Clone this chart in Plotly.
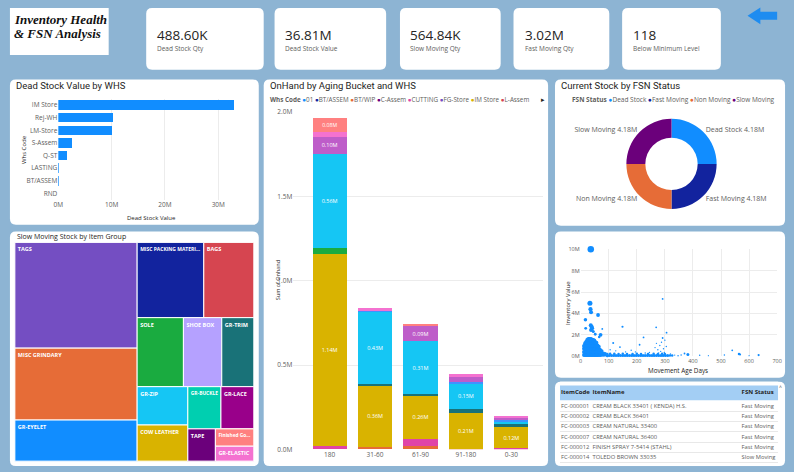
import plotly.graph_objects as go

W, H = 794, 472
BG = "#8DB4D3"
FONT = "Segoe UI, Open Sans, sans-serif"
TFONT = "Roboto, sans-serif"
GRAY = "#605E5C"
DARK = "#252423"
GRID = "#ECECEC"

# ---------------- data ----------------
KPI_VALUES = ["488.60K", "36.81M", "564.84K", "3.02M", "118"]
KPI_LABELS = ["Dead Stock Qty", "Dead Stock Value", "Slow Moving Qty", "Fast Moving Qty", "Below Minimum Level"]

WHS_DEAD = ["IM Store", "Rej-WH", "LM-Store", "S-Assem", "Q-ST", "LASTING", "BT/ASSEM", "RND"]
DEAD_VALUE_M = [33.0, 10.2, 10.0, 2.5, 1.6, 0.15, 0.1, 0.0]
DEAD_TICKS_M = [0, 10, 20, 30]

BUCKETS = ["180", "31-60", "61-90", "91-180", "0-30"]
WHS_CODES = ["01", "BT/ASSEM", "BT/WIP", "C-Assem", "CUTTING", "FG-Store", "IM Store", "L-Assem",
             "LASTING", "LM-Store", "M-Store", "Q-ST", "RND", "Rej-WH", "S-Assem", "SOLE-ST", "STITCH", "WIP-ST"]
OH_01 = [0, 0, 0, 0, 0]
OH_BT_ASSEM = [0, 0, 0, 0, 0]
OH_BT_WIP = [0, 0.015, 0.02, 0.005, 0]
OH_C_ASSEM = [0, 0, 0, 0, 0]
OH_CUTTING = [0.02, 0, 0.04, 0, 0.01]
OH_FG_STORE = [0, 0, 0, 0, 0]
OH_IM_STORE = [1.14, 0.36, 0.26, 0.21, 0.12]
OH_L_ASSEM = [0, 0, 0, 0, 0]
OH_LASTING = [0, 0.012, 0.01, 0.027, 0.02]
OH_LM_STORE = [0.033, 0, 0, 0, 0]
OH_M_STORE = [0.56, 0.43, 0.31, 0.15, 0.015]
OH_Q_ST = [0, 0.005, 0, 0.006, 0.015]
OH_RND = [0, 0, 0, 0, 0]
OH_REJ_WH = [0.10, 0, 0.09, 0.033, 0.005]
OH_S_ASSEM = [0.03, 0.015, 0, 0.013, 0.015]
OH_SOLE_ST = [0, 0, 0, 0, 0]
OH_STITCH = [0, 0, 0, 0, 0]
OH_WIP_ST = [0.08, 0, 0.015, 0, 0]
ONHAND_SERIES = [OH_01, OH_BT_ASSEM, OH_BT_WIP, OH_C_ASSEM, OH_CUTTING, OH_FG_STORE, OH_IM_STORE,
                 OH_L_ASSEM, OH_LASTING, OH_LM_STORE, OH_M_STORE, OH_Q_ST, OH_RND, OH_REJ_WH,
                 OH_S_ASSEM, OH_SOLE_ST, OH_STITCH, OH_WIP_ST]
LEGEND_COUNT = 8

FSN_STATUS = ["Dead Stock", "Fast Moving", "Non Moving", "Slow Moving"]
FSN_STOCK_M = [4.18, 4.18, 4.18, 4.18]

GROUPS = ["TAGS", "MISC GRINDARY", "GR-EYELET", "MISC PACKING MATERIAL", "BAGS", "SOLE", "SHOE BOX",
          "GR-TRIM", "GR-ZIP", "COW LEATHER", "GR-BUCKLE", "GR-LACE", "TAPE", "Finished Goods", "GR-ELASTIC"]
GROUP_LABELS = ["TAGS", "MISC GRINDARY", "GR-EYELET", "MISC PACKING MATERI...", "BAGS", "SOLE", "SHOE BOX",
                "GR-TRIM", "GR-ZIP", "COW LEATHER", "GR-BUCKLE", "GR-LACE", "TAPE", "Finished Go...", "GR-ELASTIC"]
GROUP_QTY_K = [139.7, 95.0, 54.3, 54.2, 40.7, 34.5, 28.6, 23.9, 21.0, 19.8, 15.1, 15.0, 9.6, 7.2, 6.2]

# scatter items: (movement age days, inventory value M, qty)
LARGE_ITEMS = [(36, 10.0, 65), (33, 4.95, 50), (35, 4.4, 42), (37, 4.1, 40), (62, 3.85, 38), (17, 3.4, 35),
               (36, 2.9, 40), (39, 2.75, 42), (37, 2.45, 40), (41, 2.6, 40), (71, 2.0, 38), (77, 2.55, 18),
               (18, 2.6, 28), (45, 2.3, 30), (52, 2.05, 28), (66, 1.8, 25)]
OUTLIER_ITEMS = [(292, 5.35, 18), (149, 2.75, 22), (269, 2.7, 18), (224, 1.75, 18), (306, 2.2, 18),
                 (292, 1.7, 18), (210, 1.07, 18), (116, 1.24, 20), (140, 0.85, 18), (382, 0.15, 30),
                 (540, 0.55, 18), (564, 0.2, 25), (568, 0.15, 20), (634, 0.1, 22), (512, 0.1, 15),
                 (424, 0.08, 15), (347, 0.05, 15), (358, 0.1, 15), (370, 0.25, 18), (265, 0.8, 14),
                 (270, 1.2, 14), (275, 0.6, 14), (282, 1.0, 14), (288, 1.3, 14), (295, 0.7, 14),
                 (300, 1.5, 14), (285, 0.45, 14), (298, 0.35, 14), (305, 0.9, 14), (278, 0.3, 14),
                 (180, 0.55, 14), (195, 0.4, 14), (230, 0.3, 14), (245, 0.35, 14), (160, 0.4, 14),
                 (125, 0.5, 14), (105, 0.6, 14), (320, 0.2, 14), (335, 0.1, 14), (455, 0.05, 12),
                 (600, 0.05, 12)]
CLUSTER_ITEMS = [(12, 0.1, 40), (12, 0.4, 40), (12, 0.7, 40), (12, 0.95, 40),
                 (16, 0.1, 40), (16, 0.4, 40), (16, 0.7, 40), (16, 1.0, 40), (16, 1.2, 40),
                 (20, 0.1, 40), (20, 0.4, 40), (20, 0.7, 40), (20, 1.0, 40), (20, 1.3, 45),
                 (24, 0.1, 40), (24, 0.4, 40), (24, 0.7, 40), (24, 1.0, 40), (24, 1.3, 45), (24, 1.5, 45),
                 (28, 0.1, 40), (28, 0.4, 40), (28, 0.7, 40), (28, 1.0, 40), (28, 1.3, 45), (28, 1.55, 50),
                 (32, 0.1, 40), (32, 0.4, 40), (32, 0.7, 40), (32, 1.0, 40), (32, 1.3, 45), (32, 1.55, 50),
                 (36, 0.1, 40), (36, 0.4, 40), (36, 0.7, 40), (36, 1.0, 40), (36, 1.3, 45), (36, 1.55, 50),
                 (40, 0.1, 40), (40, 0.4, 40), (40, 0.7, 40), (40, 1.0, 40), (40, 1.3, 45), (40, 1.5, 50),
                 (44, 0.1, 40), (44, 0.4, 40), (44, 0.7, 40), (44, 1.0, 40), (44, 1.3, 45), (44, 1.5, 45),
                 (48, 0.1, 40), (48, 0.4, 40), (48, 0.7, 40), (48, 1.0, 40), (48, 1.3, 45), (48, 1.45, 45),
                 (52, 0.1, 40), (52, 0.4, 40), (52, 0.7, 40), (52, 1.0, 40), (52, 1.3, 40),
                 (56, 0.1, 40), (56, 0.4, 40), (56, 0.7, 40), (56, 1.0, 40), (56, 1.25, 40),
                 (60, 0.1, 40), (60, 0.4, 40), (60, 0.7, 40), (60, 1.0, 40),
                 (65, 0.1, 40), (65, 0.4, 40), (65, 0.7, 40), (65, 0.9, 35),
                 (70, 0.1, 40), (70, 0.35, 40), (70, 0.6, 35),
                 (76, 0.1, 35), (76, 0.3, 35), (76, 0.5, 30),
                 (82, 0.1, 35), (82, 0.3, 30), (88, 0.1, 30), (88, 0.25, 30), (95, 0.05, 30), (95, 0.2, 25)]
CARPET_ITEMS = [(102, 0.06, 30), (110, 0.06, 30), (118, 0.06, 30), (126, 0.06, 30), (134, 0.06, 30),
                (142, 0.06, 30), (150, 0.06, 30), (158, 0.06, 30), (166, 0.06, 30), (174, 0.06, 30),
                (182, 0.06, 30), (190, 0.06, 30), (198, 0.06, 30), (206, 0.06, 30), (214, 0.06, 30),
                (222, 0.06, 30), (230, 0.06, 30), (238, 0.06, 30), (246, 0.06, 30), (254, 0.06, 30),
                (262, 0.06, 30), (270, 0.06, 30), (278, 0.06, 30), (286, 0.06, 30), (294, 0.06, 30),
                (302, 0.06, 30), (310, 0.06, 30), (318, 0.06, 25), (326, 0.06, 25),
                (105, 0.22, 25), (120, 0.22, 25), (135, 0.2, 25), (150, 0.22, 25), (165, 0.2, 25),
                (185, 0.2, 25), (200, 0.22, 25), (215, 0.2, 25), (240, 0.2, 25), (260, 0.22, 25),
                (275, 0.2, 25), (290, 0.22, 25), (300, 0.2, 25)]

TABLE_HEADER = ["ItemCode", "ItemName", "FSN Status"]
ITEM_CODES = ["FC-000001", "FC-000002", "FC-000003", "FC-000007", "FC-000012", "FC-000014"]
ITEM_NAMES = ["CREAM BLACK 33401 ( KENDA) H.S.", "CREAM BLACK 36401", "CREAM NATURAL 33400",
              "CREAM NATURAL 36400", "FINISH SPRAY 7-5414 (STAHL)", "TOLEDO BROWN 33035"]
ITEM_STATUS = ["Fast Moving", "Fast Moving", "Fast Moving", "Fast Moving", "Fast Moving", "Slow Moving"]

PBI = ["#118DFF", "#12239E", "#E66C37", "#6B007B", "#E044A7", "#744EC2", "#D9B300", "#D64550",
       "#197278", "#1AAB40", "#15C6F4", "#4092FF", "#FFA058", "#BE5DC9", "#F472D0", "#B5A1FF",
       "#C4A200", "#FF8080"]
FSN_COLORS = ["#118DFF", "#12239E", "#E66C37", "#6B007B"]
GROUP_COLORS = ["#744EC2", "#E66C37", "#118DFF", "#12239E", "#D64550", "#1AAB40", "#B5A1FF", "#197278",
                "#15C6F4", "#D9B300", "#00CFB0", "#99008A", "#6B007B", "#FF8080", "#F472D0"]


def px(x):
    return x / W


def py(y):
    return 1 - y / H


def rrect(x0, y0, x1, y1, r=6, fill="white"):
    rx, ry = r / W, r / H
    X0, X1, Y0, Y1 = px(x0), px(x1), py(y0), py(y1)
    if r == 0:
        path = f"M{X0},{Y0} L{X1},{Y0} L{X1},{Y1} L{X0},{Y1} Z"
    else:
        path = (f"M{X0+rx},{Y0} L{X1-rx},{Y0} Q{X1},{Y0} {X1},{Y0-ry} L{X1},{Y1+ry} Q{X1},{Y1} {X1-rx},{Y1} "
                f"L{X0+rx},{Y1} Q{X0},{Y1} {X0},{Y1+ry} L{X0},{Y0-ry} Q{X0},{Y0} {X0+rx},{Y0} Z")
    return dict(type="path", path=path, xref="paper", yref="paper", fillcolor=fill,
                line=dict(width=0), layer="below")


annotations = []


def txt(x, y, s, size=7, color=GRAY, anchor="left", family=FONT, angle=0):
    annotations.append(dict(x=px(x), y=py(y), xref="paper", yref="paper", text=s, showarrow=False,
                            xanchor=anchor, yanchor="middle", textangle=angle,
                            font=dict(size=size, color=color, family=family)))


fig = go.Figure()

# ---- dead stock by WHS
fig.add_trace(go.Bar(y=WHS_DEAD, x=DEAD_VALUE_M, orientation="h", marker=dict(color="#118DFF", line_width=0),
                     xaxis="x", yaxis="y", showlegend=False))

# ---- onhand stacked
for i, vals in enumerate(ONHAND_SERIES):
    fig.add_trace(go.Bar(x=BUCKETS, y=vals, name=WHS_CODES[i], marker=dict(color=PBI[i], line_width=0),
                         text=[f"{v:.2f}M" if v >= 0.04 else "" for v in vals],
                         textposition="inside", insidetextanchor="middle", textangle=0,
                         textfont=dict(size=5.5, color="white", family=FONT),
                         xaxis="x2", yaxis="y2", showlegend=False))

# ---- donut
fig.add_trace(go.Pie(labels=FSN_STATUS, values=FSN_STOCK_M, hole=0.58, sort=False, direction="clockwise",
                     rotation=0, marker=dict(colors=FSN_COLORS, line=dict(width=0)),
                     textposition="outside", texttemplate="%{label} %{value:.2f}M",
                     textfont=dict(size=7, color=GRAY, family=FONT), showlegend=False,
                     domain=dict(x=[px(629), px(721)], y=[py(208), py(116)])))

# ---- scatter
all_items = LARGE_ITEMS + OUTLIER_ITEMS + CLUSTER_ITEMS + CARPET_ITEMS
fig.add_trace(go.Scatter(x=[d for d, v, q in all_items], y=[v for d, v, q in all_items], mode="markers",
                         marker=dict(size=[q for d, v, q in all_items], sizemode="diameter", sizeref=10,
                                     color="#118DFF", line_width=0, opacity=1),
                         cliponaxis=False, xaxis="x3", yaxis="y3", showlegend=False))

# ---- treemap
fig.add_trace(go.Treemap(labels=GROUPS, parents=[""] * len(GROUPS), values=GROUP_QTY_K, text=GROUP_LABELS,
                         texttemplate="<b>%{text}</b>", textposition="top left",
                         textfont=dict(size=5.5, color="white", family=FONT),
                         marker=dict(colors=GROUP_COLORS, line=dict(width=1, color="white"),
                                     pad=dict(t=0, l=0, r=0, b=0)),
                         tiling=dict(packing="squarify", squarifyratio=1.618, pad=0),
                         pathbar=dict(visible=False), sort=True,
                         domain=dict(x=[px(10), px(252)], y=[py(465), py(242)])))

# ---- table (text drawn on its own hidden axes: x = pixel offset from column start, y = row index)
COL_X = [1, 33, 184]          # left offsets of the three columns inside the table area (px)
HEADER_ROW = -1.33
rows = list(range(len(ITEM_CODES)))
for cx, head, col in zip(COL_X, TABLE_HEADER, [ITEM_CODES, ITEM_NAMES, ITEM_STATUS]):
    fig.add_trace(go.Scatter(x=[cx] * len(col), y=rows, mode="text", text=col, textposition="middle right",
                             textfont=dict(size=5.8, color=GRAY, family=FONT), cliponaxis=False,
                             xaxis="x4", yaxis="y4", showlegend=False, hoverinfo="skip"))
    fig.add_trace(go.Scatter(x=[cx], y=[HEADER_ROW], mode="text", text=[f"<b>{head}</b>"],
                             textposition="middle right", textfont=dict(size=6, color=DARK, family=FONT),
                             cliponaxis=False, xaxis="x4", yaxis="y4", showlegend=False, hoverinfo="skip"))

# ---- shapes: panels
shapes = [rrect(5, 3, 105, 51, r=0)]
for (a, b) in [(143, 262), (273, 386), (400, 502), (515, 612), (625, 725)]:
    shapes.append(rrect(a, 3, b, 66))
for box in [(5, 76, 257, 224), (262, 76, 550, 470), (557, 76, 790, 225), (557, 231, 790, 380),
            (557, 384, 790, 470), (5, 231, 257, 470)]:
    shapes.append(rrect(*box))
# table header band
shapes.append(dict(type="rect", xref="x4", yref="y4", x0=0, x1=221, y0=-2.05, y1=-0.62,
                   fillcolor="#A3CEF4", line=dict(width=0), layer="below"))
# back arrow icon
arrow = [(752, 11), (765, 2.5), (765, 7), (782, 7), (782, 15), (765, 15), (765, 19.5)]
shapes.append(dict(type="path", xref="paper", yref="paper", fillcolor="#1E8CF0", line=dict(width=0),
                   path="M" + " L".join(f"{px(a)},{py(b)}" for a, b in arrow) + " Z"))

# ---- texts
txt(7, 15, "<b><i>Inventory Health</i></b>", size=13, color="#111111", family="Liberation Serif, serif")
txt(7, 29, "<b><i>&amp; FSN Analysis</i></b>", size=13, color="#111111", family="Liberation Serif, serif")
for (a, val, lab) in zip([152, 282, 408, 525, 634], KPI_VALUES, KPI_LABELS):
    txt(a, 31, val, size=13.5, color=DARK, family=FONT)
    txt(a, 44, lab, size=6.5, color=GRAY, family=FONT)

txt(9, 82, "Dead Stock Value by WHS", size=9.5, color=DARK, family=TFONT)
txt(13, 147, "Whs Code", size=6, color=DARK, angle=-90)
txt(148, 217, "Dead Stock Value", size=6, color=DARK, anchor="center")

txt(266, 82, "OnHand by Aging Bucket and WHS", size=9.5, color=DARK, family=TFONT)
leg = "<b>Whs Code</b> " + " ".join(f"<span style='color:{PBI[i]}'>●</span>{WHS_CODES[i]}"
                                    for i in range(LEGEND_COUNT))
txt(266, 96, leg, size=6.3, color=GRAY)
txt(541, 96, "▸", size=7, color=DARK)
txt(270, 281, "Sum of Onhand", size=5.5, color=DARK, angle=-90)

txt(561, 82, "Current Stock by FSN Status", size=9.5, color=DARK, family=TFONT)
leg2 = "<b>FSN Status</b> " + " ".join(f"<span style='color:{FSN_COLORS[i]}'>●</span>{FSN_STATUS[i]}"
                                       for i in range(len(FSN_STATUS)))
txt(572, 96, leg2, size=6.5, color=GRAY)

txt(564, 304, "Inventory Value", size=6, color=DARK, angle=-90)
txt(682, 373, "Movement Age Days", size=6.3, color=DARK, anchor="center")

txt(10, 236, "Slow Moving Stock by Item Group", size=7, color=DARK)
txt(785, 389, "˄", size=5, color=GRAY, anchor="center")

tickfont = dict(size=6.5, color=GRAY, family=FONT)
# table axes: y=0 at pixel 409.3, 10.4 px per row; x in pixels from 562 to 783
tbl_top, tbl_bot = 384, 470
fig.update_layout(
    width=W, height=H, margin=dict(l=0, r=0, t=0, b=0),
    paper_bgcolor=BG, plot_bgcolor="white",
    barmode="stack", bargap=0.25, showlegend=False,
    shapes=shapes, annotations=annotations,
    xaxis=dict(domain=[px(54), px(243)], range=[0, 35], tickvals=DEAD_TICKS_M,
               ticktext=[f"{v}M" for v in DEAD_TICKS_M],
               showgrid=True, gridcolor=GRID, zeroline=False, tickfont=tickfont, anchor="y", fixedrange=True),
    yaxis=dict(domain=[py(198.5), py(95.5)], categoryorder="array", categoryarray=WHS_DEAD,
               autorange="reversed", tickfont=tickfont, anchor="x", showgrid=False, ticks="", fixedrange=True),
    xaxis2=dict(domain=[px(292), px(545)], range=[-0.8, 4.7], tickfont=tickfont, anchor="y2",
                showgrid=False, ticks="", fixedrange=True),
    yaxis2=dict(domain=[py(453), py(109)], range=[0, 2.0], dtick=0.5, tickformat=".1f", ticksuffix="M",
                tickfont=tickfont, anchor="x2", showgrid=True, gridcolor=GRID, zeroline=False, fixedrange=True),
    xaxis3=dict(domain=[px(583), px(782)], range=[0, 700], dtick=100,
                tickfont=dict(size=5.5, color=GRAY, family=FONT),
                anchor="y3", showgrid=True, gridcolor=GRID, zeroline=False, fixedrange=True),
    yaxis3=dict(domain=[py(358), py(249)], range=[0, 10], dtick=2, ticksuffix="M",
                tickfont=dict(size=5.5, color=GRAY, family=FONT), anchor="x3",
                showgrid=True, gridcolor=GRID, zeroline=False, fixedrange=True),
    xaxis4=dict(domain=[px(562), px(783)], range=[0, 221], visible=False, fixedrange=True, anchor="y4"),
    yaxis4=dict(domain=[py(tbl_bot), py(tbl_top)],
                range=[(tbl_bot - 409.3) / 10.4, -(409.3 - tbl_top) / 10.4],
                tickvals=[r + 0.5 for r in rows], showticklabels=False, ticks="",
                showgrid=True, gridcolor="#E8E8E8", gridwidth=0.7, zeroline=False, showline=False,
                fixedrange=True, anchor="x4"),
)

fig.write_html("out.html")
